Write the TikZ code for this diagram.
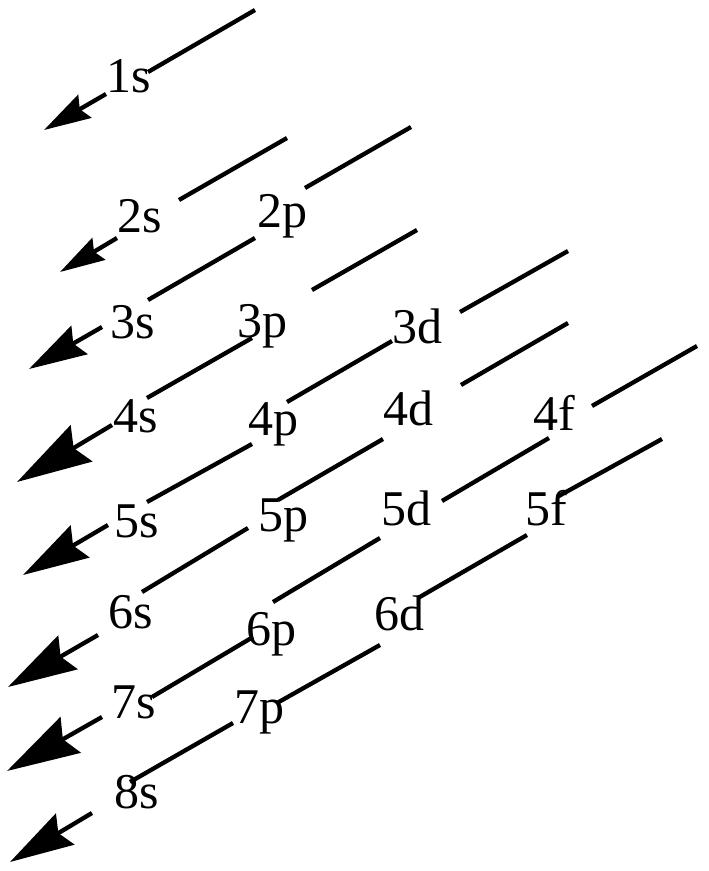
\documentclass[tikz,border=0pt]{standalone}
\usepackage{fontspec}
\setmainfont{Liberation Serif}
\usetikzlibrary{arrows.meta}
\begin{document}
\begin{tikzpicture}[x=1pt,y=-1pt,
  seg/.style={line width=4.3pt},
  arw/.style={line width=4.3pt,-{Stealth[length=#1,width'=0pt 0.56,inset'=0pt 0.12]}},
  lbl/.style={inner sep=0pt,anchor=base,font=\fontsize{50}{60}\selectfont}]
\useasboundingbox (0,0) rectangle (709,871);
% labels
\node[lbl] (s1) at (129,92) {1s};
\node[lbl] (s2) at (140,232) {2s};
\node[lbl] (p2) at (282,227) {2p};
\node[lbl] (s3) at (133,338) {3s};
\node[lbl] (p3) at (262,337) {3p};
\node[lbl] (d3) at (417,343) {3d};
\node[lbl] (s4) at (136,432) {4s};
\node[lbl] (p4) at (273,435) {4p};
\node[lbl] (d4) at (408,425) {4d};
\node[lbl] (f4) at (554,430) {4f};
\node[lbl] (s5) at (137,537) {5s};
\node[lbl] (p5) at (283,531) {5p};
\node[lbl] (d5) at (406,525) {5d};
\node[lbl] (f5) at (546,525) {5f};
\node[lbl] (s6) at (131,628) {6s};
\node[lbl] (p6) at (271,645) {6p};
\node[lbl] (d6) at (399,630) {6d};
\node[lbl] (s7) at (134,718) {7s};
\node[lbl] (p7) at (259,723) {7p};
\node[lbl] (s8) at (137,808) {8s};
% line end points
\coordinate (a1) at (255,10);  \coordinate (b1) at (148,72);
\coordinate (a2) at (287,138); \coordinate (b2) at (179,200);
\coordinate (a3) at (411,127); \coordinate (b3) at (305,188);
\coordinate (a4) at (255,238); \coordinate (b4) at (148,300);
\coordinate (a5) at (417,230); \coordinate (b5) at (312,290);
\coordinate (a6) at (252,338); \coordinate (b6) at (147,398);
\coordinate (a7) at (568,251); \coordinate (b7) at (460,312);
\coordinate (a8) at (392,341); \coordinate (b8) at (287,402);
\coordinate (a9) at (252,444); \coordinate (b9) at (147,502);
\coordinate (a10) at (568,323); \coordinate (b10) at (461,385);
\coordinate (a11) at (383,439); \coordinate (b11) at (278,500);
\coordinate (a12) at (248,528); \coordinate (b12) at (142,592);
\coordinate (a13) at (697,346); \coordinate (b13) at (592,406);
\coordinate (a14) at (549,438); \coordinate (b14) at (442,501);
\coordinate (a15) at (380,538); \coordinate (b15) at (273,602);
\coordinate (a16) at (253,637); \coordinate (b16) at (152,697);
\coordinate (a17) at (662,439); \coordinate (b17) at (557,497);
\coordinate (a18) at (527,535); \coordinate (b18) at (418,598);
\coordinate (a19) at (380,645); \coordinate (b19) at (277,703);
\coordinate (a20) at (233,723); \coordinate (b20) at (130,782);
\foreach \i in {1,...,20} {\draw[seg] (a\i) -- (b\i);}
% arrows
\coordinate (t1s) at (106,94);  \coordinate (h1s) at (44,130);
\coordinate (t2s) at (117,238); \coordinate (h2s) at (60,272);
\coordinate (t3s) at (102,327); \coordinate (h3s) at (29,369);
\coordinate (t4s) at (112,425); \coordinate (h4s) at (17,482);
\coordinate (t5s) at (108,525); \coordinate (h5s) at (23,575);
\coordinate (t6s) at (98,635);  \coordinate (h6s) at (8,687);
\coordinate (t7s) at (102,717); \coordinate (h7s) at (7,771);
\coordinate (t8s) at (92,813);  \coordinate (h8s) at (10,862);
\draw[arw=47pt] (t1s) -- (h1s);
\draw[arw=45pt] (t2s) -- (h2s);
\draw[arw=58pt] (t3s) -- (h3s);
\draw[arw=75pt] (t4s) -- (h4s);
\draw[arw=66pt] (t5s) -- (h5s);
\draw[arw=69pt] (t6s) -- (h6s);
\draw[arw=73pt] (t7s) -- (h7s);
\draw[arw=64pt] (t8s) -- (h8s);
\end{tikzpicture}
\end{document}
